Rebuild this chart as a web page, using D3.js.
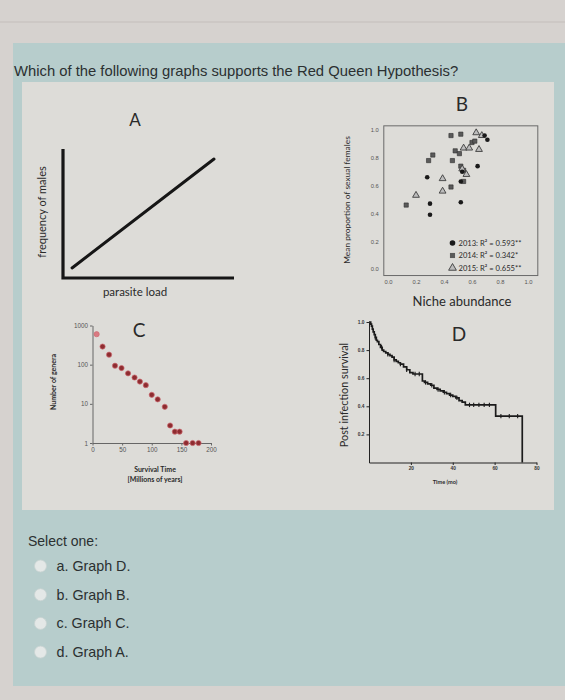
<!DOCTYPE html>
<html lang="en">
<head>
<meta charset="UTF-8">
<title>Red Queen Hypothesis</title>
<script src="https://d3js.org/d3.v7.min.js"></script>
<style>
    body { margin: 0; background: #d6d2cf; }
    svg { display: block; }
    .q { font-family: "Liberation Sans", Arial, sans-serif; fill: #2b3031; }
    .lbl { font-family: Lato, "Open Sans", sans-serif; fill: #2a2a2a; }
    .tiny text { font-family: "Liberation Sans", Arial, sans-serif; fill: #555; }
    .tiny path, .tiny line { stroke: #666; }
</style>
</head>
<body>
<div id="container"></div>
<script>
    const width = 565, height = 700;

    // question text
    const question = "Which of the following graphs supports the Red Queen Hypothesis?";
    const options = ["a. Graph D.", "b. Graph B.", "c. Graph C.", "d. Graph A."];

    // graph A - straight line, no ticks
    const aX = [0.053, 0.883];
    const aY = [0.078, 0.922];

    // graph B - scatter of three years
    const bTicks = [0, 0.2, 0.4, 0.6, 0.8, 1.0];
    const b2013x = [0.28, 0.30, 0.30, 0.52, 0.64, 0.69, 0.71, 0.52, 0.53];
    const b2013y = [0.66, 0.47, 0.39, 0.48, 0.74, 0.96, 0.93, 0.63, 0.70];
    const b2014x = [0.13, 0.29, 0.32, 0.45, 0.52, 0.45, 0.46, 0.48, 0.51, 0.52, 0.54, 0.60, 0.62, 0.54];
    const b2014y = [0.46, 0.78, 0.82, 0.96, 0.97, 0.59, 0.78, 0.85, 0.83, 0.74, 0.63, 0.91, 0.92, 0.71];
    const b2015x = [0.20, 0.39, 0.39, 0.54, 0.58, 0.63, 0.67, 0.65, 0.56, 0.53];
    const b2015y = [0.53, 0.65, 0.56, 0.87, 0.87, 0.98, 0.96, 0.86, 0.68, 0.72];
    const bLegend = ["2013: R² = 0.593**", "2014: R² = 0.342*", "2015: R² = 0.655**"];

    // graph C - genera vs survival time (log)
    const cXTicks = [0, 50, 100, 150, 200];
    const cYTicks = [1, 10, 100, 1000];
    const cTime = [7, 17, 28, 38, 49, 60, 71, 80, 90, 100, 110, 122, 131, 139, 147, 158, 169, 179];
    const cGenera = [600, 290, 180, 94, 82, 60, 47, 37, 30, 17, 13, 8.4, 2.8, 1.95, 1.95, 1, 1, 1];

    // graph D - survival curve
    const dXTicks = [20, 40, 60, 80];
    const dYTicks = [0.2, 0.4, 0.6, 0.8, 1.0];
    const dTime = [0, 0.8, 1.2, 1.6, 2, 2.5, 3, 3.5, 4, 4.7, 5.5, 6.3, 7, 8, 9, 10, 11, 12, 13, 14,
                   15, 16.5, 18, 19.5, 21, 25.5, 26.5, 28, 29.5, 31, 32.5, 34, 35.5, 37, 38.5, 40, 41.5, 43, 44.5, 46,
                   60.5, 73.2];
    const dSurv = [1, 0.985, 0.97, 0.95, 0.93, 0.91, 0.89, 0.87, 0.86, 0.84, 0.82, 0.80, 0.79, 0.78, 0.77, 0.76, 0.75, 0.73, 0.72, 0.71,
                   0.70, 0.68, 0.66, 0.64, 0.63, 0.58, 0.57, 0.56, 0.55, 0.53, 0.52, 0.51, 0.50, 0.49, 0.48, 0.47, 0.46, 0.44, 0.43, 0.41,
                   0.33, 0];
    const dCensor = [3, 6, 9, 12, 15, 18, 22, 24, 27, 30, 33, 36, 39, 42, 48, 50, 52.5, 55, 57.5, 63, 67, 71];

    const svg = d3.select("#container").append("svg")
        .attr("width", width)
        .attr("height", height)
        .attr("viewBox", `0 0 ${width} ${height}`);

    // page background, question box, picture area
    svg.append("rect").attr("width", width).attr("height", height).attr("fill", "#d6d2cf");
    svg.append("line").attr("x1", 0).attr("x2", width).attr("y1", 22).attr("y2", 22)
        .attr("stroke", "#c4bebb").attr("stroke-width", 1);
    svg.append("rect").attr("x", 13).attr("y", 43).attr("width", width - 13).attr("height", 643).attr("fill", "#b7cdcc");
    svg.append("rect").attr("x", 22).attr("y", 82).attr("width", 532).attr("height", 428).attr("fill", "#dddcd8");

    svg.append("text").attr("class", "q")
        .attr("x", 14).attr("y", 76)
        .attr("font-size", "14.8px")
        .text(question);

    //----- graph A
    const xA = d3.scaleLinear().domain([0, 1]).range([63, 234]);
    const yA = d3.scaleLinear().domain([0, 1]).range([278, 149]);
    const gA = svg.append("g");
    gA.append("path")
        .attr("d", d3.line()([[xA(0), yA(1)], [xA(0), yA(0)], [xA(1), yA(0)]]))
        .attr("fill", "none").attr("stroke", "#161616").attr("stroke-width", 3.2);
    gA.append("path")
        .attr("d", d3.line().x(d => xA(d[0])).y(d => yA(d[1]))(d3.zip(aX, aY)))
        .attr("stroke", "#161616").attr("stroke-width", 3).attr("stroke-linecap", "round");
    gA.append("text").attr("class", "lbl").attr("x", 135).attr("y", 126)
        .attr("text-anchor", "middle").attr("font-size", "17px").text("A");
    gA.append("text").attr("class", "lbl").attr("x", 135).attr("y", 296)
        .attr("text-anchor", "middle").attr("font-size", "11.5px").text("parasite load");
    gA.append("text").attr("class", "lbl")
        .attr("transform", "translate(46,212) rotate(-90)")
        .attr("text-anchor", "middle").attr("font-size", "11px").text("frequency of males");

    //----- graph B
    const xB = d3.scaleLinear().domain([0, 1]).range([388, 528]);
    const yB = d3.scaleLinear().domain([0, 1]).range([269, 130]);
    const gB = svg.append("g");
    gB.append("rect")
        .attr("x", xB(-0.03)).attr("y", yB(1.03))
        .attr("width", xB(1.07) - xB(-0.03)).attr("height", yB(-0.047) - yB(1.03))
        .attr("fill", "none").attr("stroke", "#6a6a6a").attr("stroke-width", 1);
    gB.append("g").attr("class", "tiny")
        .attr("transform", `translate(${xB(-0.03)},0)`)
        .call(d3.axisLeft(yB).tickValues(bTicks).tickFormat(d3.format(".1f")).tickSize(0).tickPadding(5))
        .call(g => g.select(".domain").remove())
        .selectAll("text").attr("font-size", "5.8px");
    gB.append("g").attr("class", "tiny")
        .attr("transform", `translate(0,${yB(-0.047)})`)
        .call(d3.axisBottom(xB).tickValues(bTicks).tickFormat(d3.format(".1f")).tickSize(0).tickPadding(4))
        .call(g => g.select(".domain").remove())
        .selectAll("text").attr("font-size", "5.8px");

    gB.selectAll(".sq").data(d3.zip(b2014x, b2014y)).join("path")
        .attr("transform", d => `translate(${xB(d[0])},${yB(d[1])})`)
        .attr("d", d3.symbol(d3.symbolSquare, 18))
        .attr("fill", "#5a5a5a").attr("stroke", "#2e2e2e").attr("stroke-width", 0.6);
    gB.selectAll(".tr").data(d3.zip(b2015x, b2015y)).join("path")
        .attr("transform", d => `translate(${xB(d[0])},${yB(d[1])})`)
        .attr("d", d3.symbol(d3.symbolTriangle, 20))
        .attr("fill", "#bdbdbd").attr("stroke", "#3c3c3c").attr("stroke-width", 0.9);
    gB.selectAll(".ci").data(d3.zip(b2013x, b2013y)).join("circle")
        .attr("cx", d => xB(d[0])).attr("cy", d => yB(d[1])).attr("r", 2.3)
        .attr("fill", "#1a1a1a");

    const legB = gB.append("g").selectAll("g").data(bLegend).join("g")
        .attr("transform", (d, i) => `translate(452.5,${243 + i * 12.5})`);
    legB.each(function(d, i) {
        const g = d3.select(this);
        if (i === 0) g.append("circle").attr("r", 2.8).attr("fill", "#1a1a1a");
        if (i === 1) g.append("path").attr("d", d3.symbol(d3.symbolSquare, 26)).attr("fill", "#5a5a5a");
        if (i === 2) g.append("path").attr("d", d3.symbol(d3.symbolTriangle, 26))
            .attr("fill", "#bdbdbd").attr("stroke", "#3c3c3c").attr("stroke-width", 0.9);
    });
    legB.append("text").attr("x", 6).attr("y", 2.7)
        .attr("font-family", "Lato, sans-serif").attr("font-size", "7.6px").attr("fill", "#2a2a2a")
        .text(d => d);

    gB.append("text").attr("class", "lbl").attr("x", 462).attr("y", 111)
        .attr("text-anchor", "middle").attr("font-size", "19px").text("B");
    gB.append("text").attr("class", "lbl").attr("x", 462).attr("y", 306)
        .attr("text-anchor", "middle").attr("font-size", "13px").text("Niche abundance");
    gB.append("text").attr("class", "lbl")
        .attr("transform", "translate(350,200) rotate(-90)")
        .attr("text-anchor", "middle").attr("font-size", "8.4px").text("Mean proportion of sexual females");

    //----- graph C
    const xC = d3.scaleLinear().domain([0, 200]).range([92.5, 211]);
    const yC = d3.scaleLog().domain([1, 1000]).range([443, 325.5]);
    const gC = svg.append("g");
    gC.append("g").attr("class", "tiny")
        .attr("transform", `translate(0,${yC(1)})`)
        .call(d3.axisBottom(xC).tickValues(cXTicks).tickSize(2.5).tickSizeOuter(0).tickPadding(2))
        .selectAll("text").attr("font-size", "6.3px");
    gC.append("g").attr("class", "tiny")
        .attr("transform", `translate(${xC(0)},0)`)
        .call(d3.axisLeft(yC).tickValues(cYTicks).tickFormat(d3.format("d")).tickSize(2.5).tickSizeOuter(0).tickPadding(2))
        .selectAll("text").attr("font-size", "6.3px");
    gC.selectAll(".pt").data(d3.zip(cTime, cGenera)).join("circle")
        .attr("cx", d => xC(d[0])).attr("cy", d => yC(d[1])).attr("r", 2.6)
        .attr("fill", (d, i) => i === 0 ? "#d97a82" : "#8e2c30")
        .attr("stroke", "#cf6b72").attr("stroke-width", 0.7);
    gC.append("text").attr("class", "lbl").attr("x", 139).attr("y", 337)
        .attr("text-anchor", "middle").attr("font-size", "19px").text("C");
    gC.append("text").attr("class", "lbl").attr("x", 155).attr("y", 472)
        .attr("text-anchor", "middle").attr("font-size", "7px").attr("font-weight", "bold").text("Survival Time");
    gC.append("text").attr("class", "lbl").attr("x", 155).attr("y", 482)
        .attr("text-anchor", "middle").attr("font-size", "7px").attr("font-weight", "bold").text("[Millions of years]");
    gC.append("text").attr("class", "lbl")
        .attr("transform", "translate(56,382) rotate(-90)")
        .attr("text-anchor", "middle").attr("font-size", "7px").attr("font-weight", "bold").text("Number of genera");

    //----- graph D
    const xD = d3.scaleLinear().domain([0, 80]).range([369, 536.5]);
    const yD = d3.scaleLinear().domain([0, 1]).range([462.5, 322]);
    const gD = svg.append("g");
    const axD = g => g.selectAll("text").attr("font-size", "4.8px").attr("font-weight", "bold").attr("fill", "#333");
    gD.append("g")
        .attr("transform", `translate(0,${yD(0)})`)
        .call(d3.axisBottom(xD).tickValues(dXTicks).tickSize(2.5).tickSizeOuter(0).tickPadding(2))
        .call(axD)
        .call(g => g.selectAll("path,line").attr("stroke", "#222"));
    gD.append("g")
        .attr("transform", `translate(${xD(0)},0)`)
        .call(d3.axisLeft(yD).tickValues(dYTicks).tickFormat(d3.format(".1f")).tickSize(2.5).tickSizeOuter(0).tickPadding(2))
        .call(axD)
        .call(g => g.selectAll("path,line").attr("stroke", "#222"));

    const dPts = d3.zip(dTime, dSurv);
    gD.append("path")
        .attr("d", d3.line().curve(d3.curveStepAfter).x(d => xD(d[0])).y(d => yD(d[1]))(dPts))
        .attr("fill", "none").attr("stroke", "#1b1b1b").attr("stroke-width", 1.7);
    const survAt = t => dSurv[Math.max(0, d3.bisectRight(dTime, t) - 1)];
    gD.selectAll(".cen").data(dCensor).join("line")
        .attr("x1", d => xD(d)).attr("x2", d => xD(d))
        .attr("y1", d => yD(survAt(d)) - 2.2).attr("y2", d => yD(survAt(d)) + 2.2)
        .attr("stroke", "#1b1b1b").attr("stroke-width", 1.1);

    gD.append("text").attr("class", "lbl").attr("x", 459).attr("y", 341)
        .attr("text-anchor", "middle").attr("font-size", "19px").text("D");
    gD.append("text").attr("class", "lbl").attr("x", 445).attr("y", 484)
        .attr("text-anchor", "middle").attr("font-size", "5.6px").attr("font-weight", "bold").text("Time (mo)");
    gD.append("text").attr("class", "lbl")
        .attr("transform", "translate(348,395) rotate(-90)")
        .attr("text-anchor", "middle").attr("font-size", "10.8px").text("Post infection survival");

    //----- answer options
    svg.append("text").attr("class", "q").attr("x", 28).attr("y", 546)
        .attr("font-size", "14px").text("Select one:");
    const opt = svg.append("g").selectAll("g").data(options).join("g")
        .attr("transform", (d, i) => `translate(0,${566 + i * 28.7})`);
    opt.append("circle").attr("cx", 40.5).attr("cy", 0).attr("r", 6)
        .attr("fill", "#e4e8e7").attr("stroke", "#c9d3d2").attr("stroke-width", 0.8);
    opt.append("text").attr("class", "q").attr("x", 56.5).attr("y", 5)
        .attr("font-size", "14.3px").text(d => d);
</script>
</body>
</html>
